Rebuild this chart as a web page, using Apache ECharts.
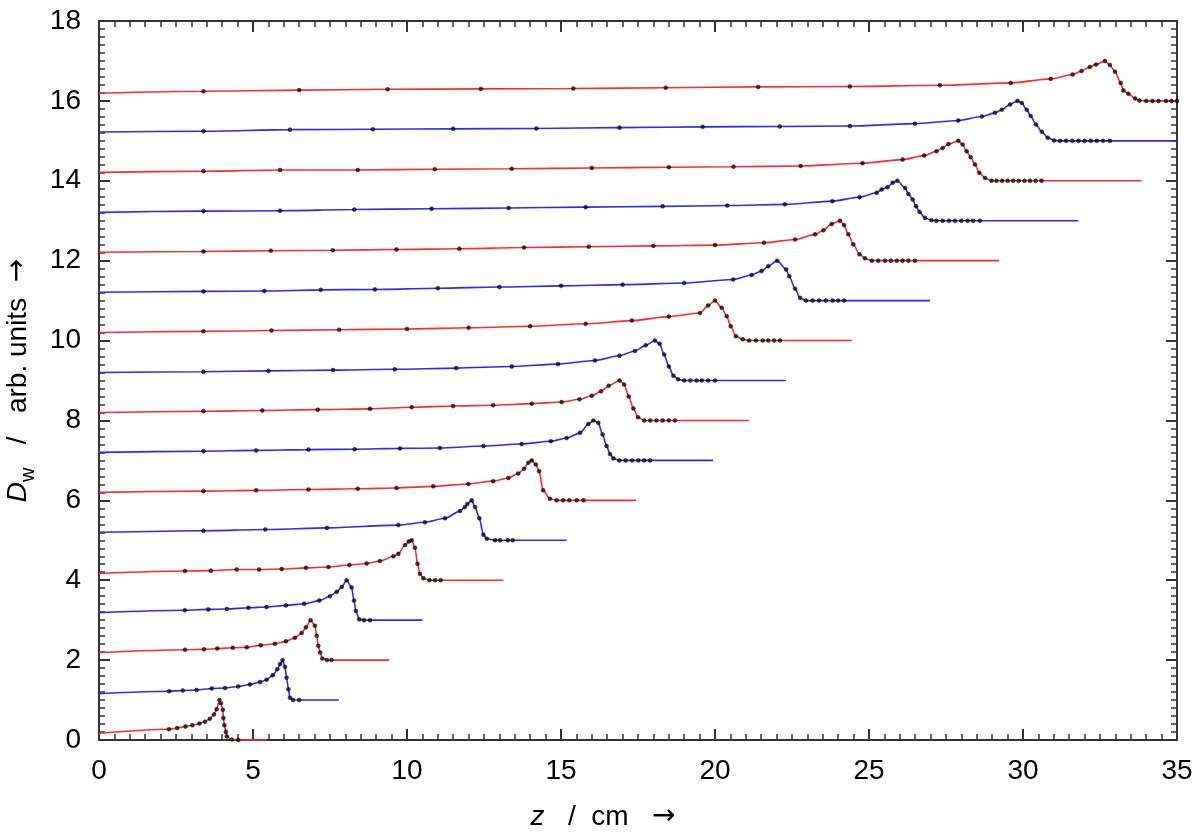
<!DOCTYPE html>
<html>
<head>
<meta charset="UTF-8">
<title>D_w vs z</title>
<script type="text/javascript" src="https://cdn.jsdelivr.net/npm/echarts@6/dist/echarts.min.js"></script>
<style>
	html,body{margin:0;padding:0;background:#fff;}
	#main{width:1204px;height:835px;}
</style>
</head>
<body>
<div id="main"></div>
<script type="text/javascript">
	// level of each curve at z = 0 and where its flat tail ends
	var startLevel = [0.17, 1.16, 2.19, 3.19, 4.17, 5.2, 6.2, 7.2, 8.2, 9.2, 10.2, 11.21, 12.21, 13.21, 14.21, 15.22, 16.19];
	var lineEnd = [5.45, 7.79, 9.42, 10.5, 13.13, 15.18, 17.44, 19.94, 21.1, 22.3, 24.44, 26.98, 29.23, 31.8, 33.85, 35, 35];

	// measured points (z in cm, D_w) per curve
	var z0 = [2.27, 2.54, 2.81, 3.03, 3.26, 3.44, 3.60, 3.73, 3.82, 3.91, 3.96, 4.02, 4.04, 4.07, 4.12, 4.15, 4.31, 4.52];
	var d0 = [0.27, 0.30, 0.34, 0.37, 0.41, 0.46, 0.53, 0.64, 0.77, 1.0, 0.92, 0.76, 0.55, 0.37, 0.2, 0.09, 0.01, 0.0];
	var z1 = [2.28, 2.72, 3.17, 3.66, 4.09, 4.52, 4.90, 5.23, 5.44, 5.64, 5.79, 5.88, 5.96, 6.04, 6.09, 6.15, 6.20, 6.30, 6.50];
	var d1 = [1.22, 1.24, 1.25, 1.29, 1.30, 1.34, 1.39, 1.45, 1.51, 1.62, 1.77, 1.90, 2.0, 1.83, 1.56, 1.27, 1.06, 1.0, 1.0];
	var z2 = [2.79, 3.41, 3.84, 4.34, 4.80, 5.25, 5.71, 6.07, 6.36, 6.58, 6.72, 6.87, 7.01, 7.07, 7.12, 7.18, 7.25, 7.40, 7.55];
	var d2 = [2.26, 2.27, 2.29, 2.31, 2.32, 2.37, 2.41, 2.47, 2.56, 2.68, 2.82, 3.0, 2.86, 2.61, 2.36, 2.19, 2.04, 2.0, 2.0];
	var z3 = [2.79, 3.55, 4.15, 4.85, 5.44, 6.07, 6.66, 7.15, 7.50, 7.72, 7.88, 8.04, 8.20, 8.28, 8.34, 8.45, 8.6, 8.8];
	var d3 = [3.25, 3.27, 3.28, 3.31, 3.33, 3.37, 3.41, 3.49, 3.60, 3.71, 3.83, 4.0, 3.82, 3.49, 3.23, 3.02, 3.0, 3.0];
	var z4 = [2.79, 3.63, 4.47, 5.2, 5.93, 6.72, 7.45, 8.13, 8.69, 9.12, 9.56, 9.72, 9.94, 10.06, 10.15, 10.26, 10.34, 10.42, 10.53, 10.73, 10.91, 11.09];
	var d4 = [4.23, 4.24, 4.27, 4.27, 4.28, 4.31, 4.33, 4.38, 4.42, 4.48, 4.60, 4.66, 4.88, 4.97, 5.0, 4.81, 4.41, 4.16, 4.05, 4.0, 4.0, 4.0];
	var z5 = [3.39, 5.4, 7.4, 9.72, 10.58, 11.23, 11.72, 11.88, 11.96, 12.10, 12.21, 12.35, 12.48, 12.59, 12.86, 13.02, 13.27, 13.43];
	var d5 = [5.24, 5.27, 5.31, 5.38, 5.45, 5.55, 5.73, 5.83, 5.91, 6.0, 5.83, 5.55, 5.14, 5.04, 5.0, 5.0, 5.0, 5.0];
	var z6 = [3.39, 5.1, 6.8, 8.4, 9.66, 10.85, 11.99, 12.80, 13.29, 13.61, 13.80, 13.94, 14.05, 14.18, 14.29, 14.42, 14.64, 14.86, 15.07, 15.27, 15.51, 15.73];
	var d6 = [6.23, 6.25, 6.27, 6.29, 6.31, 6.35, 6.41, 6.48, 6.56, 6.67, 6.79, 6.94, 7.0, 6.9, 6.73, 6.25, 6.04, 6.0, 6.0, 6.0, 6.0, 6.0];
	var z7 = [3.39, 5.1, 6.8, 8.3, 9.77, 11.07, 12.48, 13.72, 14.67, 15.18, 15.62, 15.89, 16.05, 16.21, 16.35, 16.48, 16.59, 16.70, 16.89, 17.10, 17.31, 17.51, 17.70, 17.89];
	var d7 = [7.23, 7.25, 7.27, 7.28, 7.30, 7.31, 7.36, 7.41, 7.48, 7.56, 7.69, 7.91, 8.0, 7.94, 7.65, 7.36, 7.16, 7.05, 7.0, 7.0, 7.0, 7.0, 7.0, 7.0];
	var z8 = [3.39, 5.3, 7.1, 8.8, 10.15, 11.5, 12.80, 14.05, 15.02, 15.6, 16.0, 16.3, 16.55, 16.9, 17.05, 17.2, 17.35, 17.5, 17.7, 17.9, 18.1, 18.3, 18.5, 18.7];
	var d8 = [8.23, 8.25, 8.27, 8.29, 8.33, 8.36, 8.38, 8.42, 8.46, 8.53, 8.62, 8.73, 8.87, 9.0, 8.9, 8.6, 8.3, 8.08, 8.0, 8.0, 8.0, 8.0, 8.0, 8.0];
	var z9 = [3.39, 5.5, 7.6, 9.6, 11.6, 13.4, 14.9, 16.1, 16.9, 17.4, 17.75, 18.05, 18.2, 18.35, 18.5, 18.65, 18.8, 19.0, 19.2, 19.4, 19.57, 19.78, 20.0];
	var d9 = [9.22, 9.24, 9.26, 9.28, 9.31, 9.35, 9.41, 9.5, 9.62, 9.74, 9.88, 10.0, 9.92, 9.65, 9.35, 9.12, 9.03, 9.0, 9.0, 9.0, 9.0, 9.0, 9.0];
	var z10 = [3.39, 5.6, 7.8, 10.0, 12.0, 14.0, 15.8, 17.3, 18.5, 19.51, 19.78, 20.0, 20.22, 20.38, 20.51, 20.68, 20.90, 21.11, 21.33, 21.55, 21.73, 21.92, 22.11];
	var d10 = [10.23, 10.25, 10.27, 10.29, 10.32, 10.36, 10.42, 10.5, 10.6, 10.69, 10.88, 11.0, 10.82, 10.61, 10.36, 10.11, 10.03, 10.0, 10.0, 10.0, 10.0, 10.0, 10.0];
	var z11 = [3.39, 5.37, 7.2, 8.96, 11.0, 13.0, 15.0, 17.0, 19.0, 20.59, 21.19, 21.51, 21.73, 22.02, 22.31, 22.41, 22.6, 22.76, 22.95, 23.17, 23.38, 23.6, 23.82, 24.0, 24.19];
	var d11 = [11.23, 11.24, 11.27, 11.28, 11.31, 11.34, 11.37, 11.4, 11.44, 11.53, 11.64, 11.74, 11.86, 12.0, 11.78, 11.61, 11.3, 11.07, 11.0, 11.0, 11.0, 11.0, 11.0, 11.0, 11.0];
	var z12 = [3.39, 5.58, 7.59, 9.66, 11.7, 13.8, 15.9, 18.0, 20.0, 21.59, 22.6, 23.25, 23.52, 23.79, 24.06, 24.19, 24.33, 24.49, 24.69, 24.87, 25.09, 25.3, 25.52, 25.71, 25.9, 26.09, 26.28, 26.49];
	var d12 = [12.23, 12.25, 12.26, 12.28, 12.3, 12.33, 12.35, 12.37, 12.39, 12.45, 12.53, 12.66, 12.76, 12.92, 13.0, 12.89, 12.66, 12.41, 12.16, 12.06, 12.0, 12.0, 12.0, 12.0, 12.0, 12.0, 12.0, 12.0];
	var z13 = [3.39, 5.88, 8.29, 10.8, 13.3, 15.8, 18.3, 20.4, 22.27, 23.81, 24.69, 25.25, 25.41, 25.6, 25.77, 25.92, 26.17, 26.28, 26.42, 26.53, 26.64, 26.82, 27.03, 27.19, 27.39, 27.6, 27.79, 28.0, 28.2, 28.38, 28.6];
	var d13 = [13.24, 13.25, 13.28, 13.3, 13.32, 13.34, 13.36, 13.38, 13.41, 13.49, 13.59, 13.70, 13.78, 13.84, 13.95, 14.0, 13.82, 13.67, 13.53, 13.36, 13.22, 13.07, 13.01, 13.0, 13.0, 13.0, 13.0, 13.0, 13.0, 13.0, 13.0];
	var z14 = [3.39, 5.88, 8.4, 10.9, 13.4, 16.0, 18.5, 20.6, 22.78, 24.79, 26.09, 26.79, 27.19, 27.39, 27.58, 27.90, 28.04, 28.17, 28.30, 28.44, 28.58, 28.77, 28.98, 29.14, 29.32, 29.5, 29.68, 29.86, 30.05, 30.23, 30.41, 30.6];
	var d14 = [14.24, 14.27, 14.27, 14.29, 14.3, 14.32, 14.34, 14.35, 14.37, 14.44, 14.53, 14.63, 14.74, 14.82, 14.92, 15.0, 14.91, 14.74, 14.59, 14.41, 14.2, 14.07, 14.0, 14.0, 14.0, 14.0, 14.0, 14.0, 14.0, 14.0, 14.0, 14.0];
	var z15 = [3.39, 6.2, 8.89, 11.5, 14.2, 16.9, 19.6, 22.1, 24.38, 26.49, 27.9, 28.66, 29.09, 29.31, 29.58, 29.82, 29.96, 30.12, 30.25, 30.42, 30.61, 30.80, 31.01, 31.2, 31.4, 31.6, 31.8, 32.0, 32.2, 32.4, 32.6, 32.82];
	var d15 = [15.24, 15.28, 15.29, 15.3, 15.31, 15.33, 15.35, 15.36, 15.37, 15.43, 15.51, 15.61, 15.70, 15.78, 15.91, 16.0, 15.95, 15.78, 15.62, 15.41, 15.23, 15.08, 15.01, 15.0, 15.0, 15.0, 15.0, 15.0, 15.0, 15.0, 15.0, 15.0];
	var z16 = [3.39, 6.5, 9.37, 12.4, 15.4, 18.4, 21.4, 24.38, 27.3, 29.6, 30.9, 31.61, 31.9, 32.17, 32.37, 32.66, 32.82, 32.99, 33.17, 33.26, 33.42, 33.64, 33.78, 34.0, 34.2, 34.4, 34.64, 34.82, 35.0];
	var d16 = [16.24, 16.27, 16.29, 16.3, 16.31, 16.33, 16.35, 16.36, 16.39, 16.45, 16.55, 16.66, 16.75, 16.85, 16.91, 17.0, 16.9, 16.73, 16.45, 16.26, 16.18, 16.06, 16.01, 16.0, 16.0, 16.0, 16.0, 16.0, 16.0];

	var zList = [z0, z1, z2, z3, z4, z5, z6, z7, z8, z9, z10, z11, z12, z13, z14, z15, z16];
	var dList = [d0, d1, d2, d3, d4, d5, d6, d7, d8, d9, d10, d11, d12, d13, d14, d15, d16];

	var xTicks = [0, 5, 10, 15, 20, 25, 30, 35];
	var yTicks = [0, 2, 4, 6, 8, 10, 12, 14, 16, 18];

	var RED = '#ff2a2a', BLUE = '#2a2aff';
	var FONT = 'Liberation Sans';

	function buildSeries(){
		var lines = [], dots = [];
		for (var k = 0; k < zList.length; k++) {
			var pts = [[0, startLevel[k]]];
			var marks = [];
			for (var i = 0; i < zList[k].length; i++) {
				pts.push([zList[k][i], dList[k][i]]);
				marks.push([zList[k][i], dList[k][i]]);
			}
			if (lineEnd[k] > zList[k][zList[k].length - 1]) pts.push([lineEnd[k], k]);
			lines.push({
				type: 'line', data: pts, showSymbol: false, symbol: 'none', clip: false,
				smooth: 0.25, smoothMonotone: 'x',
				lineStyle: {color: k % 2 == 0 ? RED : BLUE, width: 1.6},
				z: 5
			});
			dots.push({
				type: 'scatter', data: marks, symbol: 'circle', symbolSize: 4, clip: false,
				itemStyle: {color: '#111', borderColor: '#000', borderWidth: 0.5},
				z: 6
			});
		}
		return lines.concat(dots);
	}

	var arrowStyle = {fontFamily: 'DejaVu Sans', fontSize: 28, color: '#000'};

	function axisX(pos, labels){
		return {
			type: 'value', position: pos, min: xTicks[0], max: xTicks[xTicks.length - 1], interval: 5,
			axisLine: {show: true, onZero: false, lineStyle: {color: '#333', width: 2}},
			axisTick: {show: true, inside: true, length: 11, lineStyle: {color: '#333', width: 2}},
			minorTick: {show: true, splitNumber: 10, length: 6, lineStyle: {color: '#333', width: 1.5}},
			splitLine: {show: false},
			axisLabel: {show: labels, margin: 17, color: '#000', fontSize: 28, fontFamily: FONT},
			name: labels ? '{it|z}   /  cm   {ar|\u2192}' : '',
			nameLocation: 'middle', nameGap: 63,
			nameTextStyle: {
				color: '#000', fontSize: 28, fontFamily: FONT, padding: [0, 70, 0, 0],
				rich: {it: {fontStyle: 'italic', fontSize: 28, fontFamily: FONT, color: '#000'}, ar: arrowStyle}
			}
		};
	}

	function axisY(pos, labels){
		return {
			type: 'value', position: pos, min: yTicks[0], max: yTicks[yTicks.length - 1], interval: 2,
			axisLine: {show: true, onZero: false, lineStyle: {color: '#333', width: 2}},
			axisTick: {show: true, inside: true, length: 11, lineStyle: {color: '#333', width: 2}},
			minorTick: {show: true, splitNumber: 10, length: 6, lineStyle: {color: '#333', width: 1.5}},
			splitLine: {show: false},
			axisLabel: {show: labels, margin: 18, color: '#000', fontSize: 28, fontFamily: FONT},
			name: labels ? '{it|D}{sub|w}   /   arb. units  {ar|\u2192}' : '',
			nameLocation: 'middle', nameGap: 58, nameRotate: 90,
			nameTextStyle: {
				color: '#000', fontSize: 28, fontFamily: FONT,
				rich: {
					it: {fontStyle: 'italic', fontSize: 28, fontFamily: FONT, color: '#000'},
					sub: {fontSize: 20, fontFamily: FONT, color: '#000', verticalAlign: 'bottom', lineHeight: 42},
					ar: arrowStyle
				}
			}
		};
	}

	var myChart = echarts.init(document.getElementById('main'), null, {renderer: 'canvas'});
	myChart.setOption({
		animation: false,
		backgroundColor: '#fff',
		grid: {left: 99, right: 27, top: 21, bottom: 95, containLabel: false, outerBoundsMode: 'none'},
		xAxis: [axisX('bottom', true), axisX('top', false)],
		yAxis: [axisY('left', true), axisY('right', false)],
		series: buildSeries()
	});
</script>
</body>
</html>
